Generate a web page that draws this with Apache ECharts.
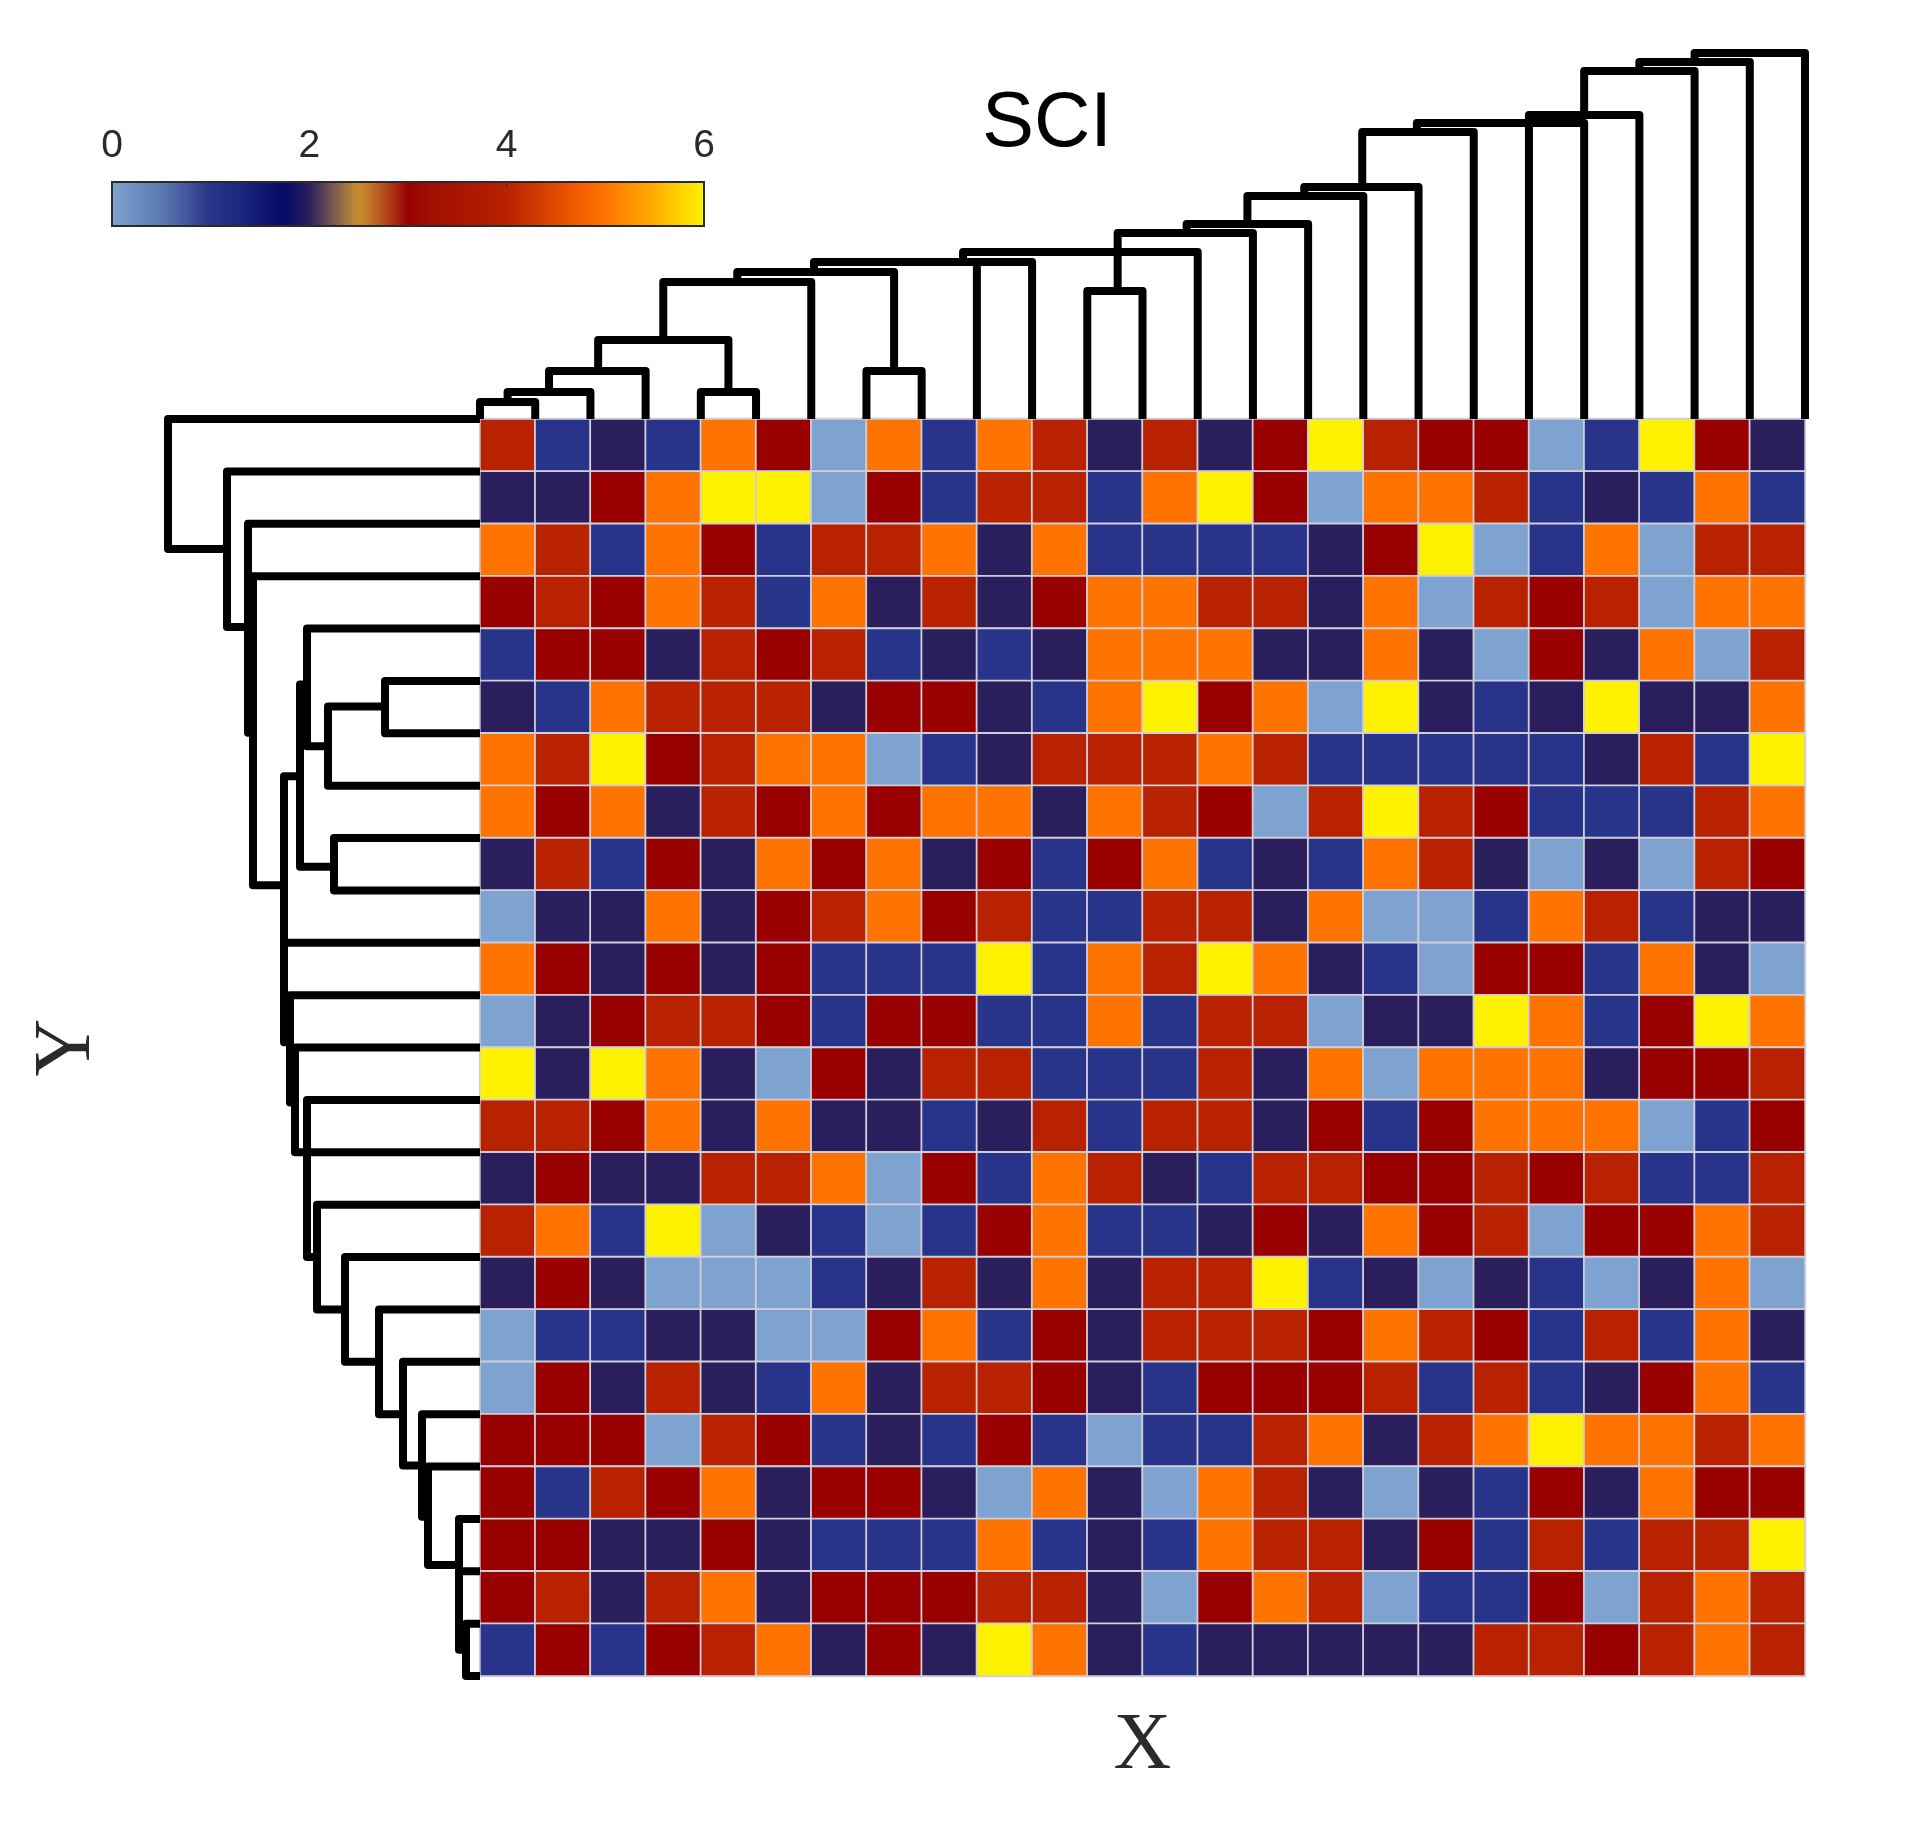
<!DOCTYPE html>
<html>
<head>
<meta charset="utf-8">
<title>SCI</title>
<script src="https://cdn.jsdelivr.net/npm/echarts@6/dist/echarts.min.js"></script>
<style>
html, body { margin: 0; padding: 0; background: #fff; }
#chart { width: 1920px; height: 1823px; }
</style>
</head>
<body>
<div id="chart"></div>
<script>
// heatmap values, top row first
var row00 = [4,1,2,1,5,3,0,5,1,5,4,2,4,2,3,6,4,3,3,0,1,6,3,2];
var row01 = [2,2,3,5,6,6,0,3,1,4,4,1,5,6,3,0,5,5,4,1,2,1,5,1];
var row02 = [5,4,1,5,3,1,4,4,5,2,5,1,1,1,1,2,3,6,0,1,5,0,4,4];
var row03 = [3,4,3,5,4,1,5,2,4,2,3,5,5,4,4,2,5,0,4,3,4,0,5,5];
var row04 = [1,3,3,2,4,3,4,1,2,1,2,5,5,5,2,2,5,2,0,3,2,5,0,4];
var row05 = [2,1,5,4,4,4,2,3,3,2,1,5,6,3,5,0,6,2,1,2,6,2,2,5];
var row06 = [5,4,6,3,4,5,5,0,1,2,4,4,4,5,4,1,1,1,1,1,2,4,1,6];
var row07 = [5,3,5,2,4,3,5,3,5,5,2,5,4,3,0,4,6,4,3,1,1,1,4,5];
var row08 = [2,4,1,3,2,5,3,5,2,3,1,3,5,1,2,1,5,4,2,0,2,0,4,3];
var row09 = [0,2,2,5,2,3,4,5,3,4,1,1,4,4,2,5,0,0,1,5,4,1,2,2];
var row10 = [5,3,2,3,2,3,1,1,1,6,1,5,4,6,5,2,1,0,3,3,1,5,2,0];
var row11 = [0,2,3,4,4,3,1,3,3,1,1,5,1,4,4,0,2,2,6,5,1,3,6,5];
var row12 = [6,2,6,5,2,0,3,2,4,4,1,1,1,4,2,5,0,5,5,5,2,3,3,4];
var row13 = [4,4,3,5,2,5,2,2,1,2,4,1,4,4,2,3,1,3,5,5,5,0,1,3];
var row14 = [2,3,2,2,4,4,5,0,3,1,5,4,2,1,4,4,3,3,4,3,4,1,1,4];
var row15 = [4,5,1,6,0,2,1,0,1,3,5,1,1,2,3,2,5,3,4,0,3,3,5,4];
var row16 = [2,3,2,0,0,0,1,2,4,2,5,2,4,4,6,1,2,0,2,1,0,2,5,0];
var row17 = [0,1,1,2,2,0,0,3,5,1,3,2,4,4,4,3,5,4,3,1,4,1,5,2];
var row18 = [0,3,2,4,2,1,5,2,4,4,3,2,1,3,3,3,4,1,4,1,2,3,5,1];
var row19 = [3,3,3,0,4,3,1,2,1,3,1,0,1,1,4,5,2,4,5,6,5,5,4,5];
var row20 = [3,1,4,3,5,2,3,3,2,0,5,2,0,5,4,2,0,2,1,3,2,5,3,3];
var row21 = [3,3,2,2,3,2,1,1,1,5,1,2,1,5,4,4,2,3,1,4,1,4,4,6];
var row22 = [3,4,2,4,5,2,3,3,3,4,4,2,0,3,5,4,0,1,1,3,0,4,5,4];
var row23 = [1,3,1,3,4,5,2,3,2,6,5,2,1,2,2,2,2,2,4,4,3,4,5,4];
var rows = [row00,row01,row02,row03,row04,row05,row06,row07,row08,row09,row10,row11,
	row12,row13,row14,row15,row16,row17,row18,row19,row20,row21,row22,row23];

// each merge: leaf a, height at a, leaf b, height at b, height of the join
var topMerges = [
	[0,0,1,0,17],
	[0.5,17,2,0,27],
	[1.25,27,3,0,48],
	[4,0,5,0,27],
	[2.14,48,4.5,27,79],
	[3.32,79,6,0,137],
	[7,0,8,0,48],
	[4.66,137,7.5,48,147],
	[6.05,147,10,0,157],
	[9,0,9,0,157],
	[8.75,157,13,0,167],
	[11,0,12,0,128],
	[11.55,128,14,0,186],
	[12.8,186,15,0,195],
	[13.9,195,16,0,223],
	[14.93,223,17,0,232],
	[15.98,232,18,0,287],
	[16.97,287,20,0,296],
	[19,0,21,0,304],
	[20,304,22,0,348],
	[21,348,23,0,357],
	[22,357,24,0,366]
];
var sideMerges = [
	[0,0,2.48,253,312],
	[1,0,3.97,232,253],
	[2,0,5.99,227,232],
	[3,0,8.9,196,227],
	[6.82,180,11.9,190,196],
	[10,0,10,0,196],
	[4,0,6.25,152,173],
	[5.49,95,7,0,152],
	[5,0,6,0,95],
	[5.07,173,8.55,146,180],
	[8,0,9,0,146],
	[11,0,13.05,185,190],
	[12,0,14,0,185],
	[13,0,16,163,173],
	[15,0,17,135,163],
	[16,0,18,101,135],
	[17,0,19,77,101],
	[18,0,19.98,58,77],
	[19,0,20.96,52,58],
	[20,0,21.88,21,52],
	[21,0,23.5,14,21],
	[22,0,22,0,21],
	[23,0,24,0,14]
];

var colorbarTicks = [0, 2, 4, 6];
var colorStops = [
	'#7fa3d0','#6b8dc0','#5c7ab0','#44579f','#28348a','#1e2a80','#121a74','#060a68',
	'#2a1f5c','#7a5c50','#c8902f','#b55020','#990000','#a01000','#a81500','#b01a00',
	'#b82200','#cc3500','#e04a00','#f55f00','#ff7300','#ff9000','#ffad00','#ffd000','#fff200'
];

var columns = [], rowNames = [], cells = [];
for (var c = 0; c < 24; c++) { columns.push('c' + c); }
for (var r = 0; r < rows.length; r++) {
	rowNames.push('r' + r);
	for (var k = 0; k < rows[r].length; k++) {
		cells.push([k, r, rows[r][k]]);
	}
}

var lineStyle = { stroke: '#000', lineWidth: 8, fill: null, lineJoin: 'round' };

// dendrogram above the heatmap
function drawTop(params, api) {
	var a = api.value(0), ah = api.value(1), b = api.value(2), bh = api.value(3), h = api.value(4);
	return {
		type: 'polyline',
		shape: { points: [api.coord([a, ah]), api.coord([a, h]), api.coord([b, h]), api.coord([b, bh])] },
		style: lineStyle
	};
}
// dendrogram left of the heatmap
function drawSide(params, api) {
	var a = api.value(0), ah = api.value(1), b = api.value(2), bh = api.value(3), h = api.value(4);
	return {
		type: 'polyline',
		shape: { points: [api.coord([ah, a]), api.coord([h, a]), api.coord([h, b]), api.coord([bh, b])] },
		style: lineStyle
	};
}

var myChart = echarts.init(document.getElementById('chart'), null, { renderer: 'canvas' });
myChart.setOption({
	animation: false,
	backgroundColor: '#fff',
	title: {
		text: 'SCI',
		left: 1042,
		top: 80,
		textAlign: 'center',
		textStyle: { fontFamily: 'Liberation Sans', fontSize: 78, fontWeight: 'normal', color: '#000' }
	},
	visualMap: {
		type: 'continuous',
		min: 0,
		max: 6,
		seriesIndex: 0,
		orient: 'horizontal',
		left: 112,
		top: 182,
		padding: 0,
		itemWidth: 44,
		itemHeight: 592,
		calculable: false,
		hoverLink: false,
		text: null,
		showLabel: false,
		z: 1,
		inRange: { color: colorStops }
	},
	grid: [
		{ left: 480, top: 419, width: 1325, height: 1257 },
		{ left: 480, top: 49, width: 1325, height: 370 },
		{ left: 150, top: 419, width: 330, height: 1257 },
		{ left: 112, top: 182, width: 592, height: 44, show: true, z: 3, borderColor: '#2a2a2a', borderWidth: 2, backgroundColor: 'transparent' }
	],
	xAxis: [
		{
			type: 'category', gridIndex: 0, data: columns,
			axisLine: { show: false }, axisTick: { show: false }, axisLabel: { show: false }, splitLine: { show: false },
			name: 'X', nameLocation: 'middle', nameGap: 31,
			nameTextStyle: { fontFamily: 'Liberation Serif', fontSize: 80, color: '#2a2a2a' }
		},
		{ type: 'value', gridIndex: 1, min: 0, max: 24, show: false },
		{ type: 'value', gridIndex: 2, min: 0, max: 330, inverse: true, show: false },
		{
			type: 'value', gridIndex: 3, min: 0, max: 6, interval: 2, position: 'top', z: 3,
			axisLine: { show: false, onZero: false },
			axisTick: { show: true, inside: true, length: 6, lineStyle: { color: '#333', width: 1 } },
			axisLabel: {
				margin: 16,
				fontFamily: 'Liberation Sans',
				fontSize: 39,
				color: '#2a2a2a',
				showMinLabel: true,
				showMaxLabel: true,
				formatter: function(v) { return colorbarTicks.indexOf(v) >= 0 ? String(v) : ''; }
			},
			splitLine: { show: false }
		}
	],
	yAxis: [
		{
			type: 'category', gridIndex: 0, data: rowNames, inverse: true,
			axisLine: { show: false }, axisTick: { show: false }, axisLabel: { show: false }, splitLine: { show: false },
			name: 'Y', nameLocation: 'middle', nameGap: 372,
			nameTextStyle: { fontFamily: 'Liberation Serif', fontSize: 80, color: '#2a2a2a' }
		},
		{ type: 'value', gridIndex: 1, min: 0, max: 370, show: false },
		{ type: 'value', gridIndex: 2, min: 0, max: 24, inverse: true, show: false },
		{ type: 'value', gridIndex: 3, min: 0, max: 1, show: false }
	],
	series: [
		{
			type: 'heatmap',
			xAxisIndex: 0,
			yAxisIndex: 0,
			data: cells,
			silent: true,
			itemStyle: { borderColor: '#d0ced8', borderWidth: 1.8 }
		},
		{
			type: 'custom',
			xAxisIndex: 1,
			yAxisIndex: 1,
			clip: false,
			silent: true,
			renderItem: drawTop,
			data: topMerges,
			z: 5
		},
		{
			type: 'custom',
			xAxisIndex: 2,
			yAxisIndex: 2,
			clip: false,
			silent: true,
			renderItem: drawSide,
			data: sideMerges,
			z: 5
		}
	]
});
</script>
</body>
</html>
